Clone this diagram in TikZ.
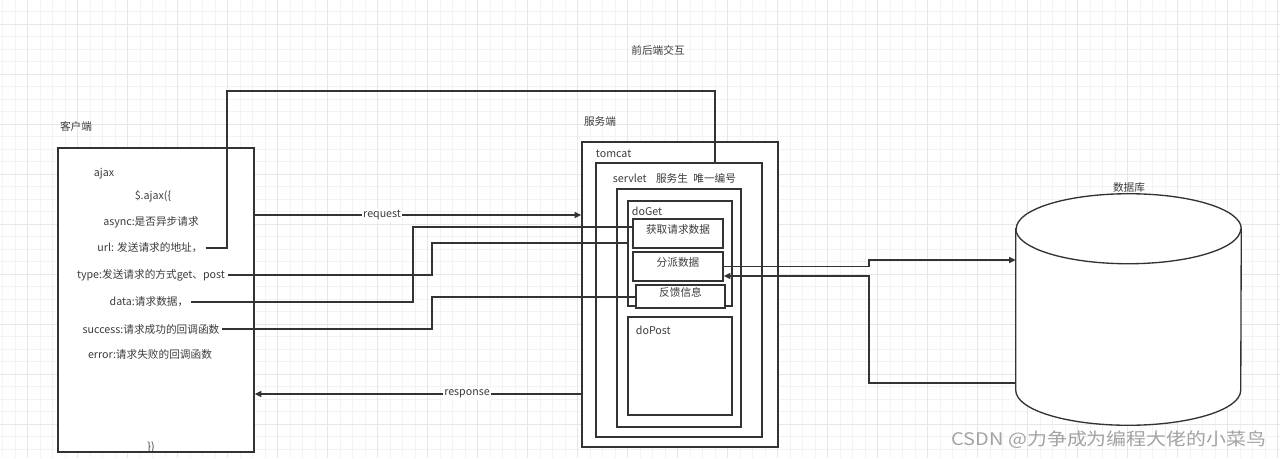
\documentclass[tikz,border=0pt]{standalone}
\usepackage{fontspec}
\setmainfont{Noto Sans CJK SC}
\usepackage{graphicx}
\usetikzlibrary{arrows.meta,fit}
\definecolor{linegray}{HTML}{333333}
\definecolor{textgray}{HTML}{3C3C3C}
\definecolor{gridminor}{HTML}{F3F3F3}
\definecolor{gridmajor}{HTML}{E7E7E7}
\definecolor{markgray}{HTML}{A3A3A3}
\tikzset{
  box/.style={draw=linegray, fill=white, inner sep=0pt, line width=1pt},
  txt/.style={text=textgray, font=\fontsize{8}{9}\selectfont, inner sep=2pt},
  wire/.style={draw=linegray, line width=1pt},
  arr/.style={wire, -{Triangle[length=5pt,width=4.5pt]}},
  tag/.style={txt, fill=white, inner sep=1pt},
}
\begin{document}
\begin{tikzpicture}[x=0.75pt, y=-0.75pt]
	\fill[white] (0,0) rectangle (1280,458);
	\useasboundingbox (0,0) rectangle (1280,458);
	% background grid
	\foreach \k in {0,...,102} \draw[gridminor, line width=0.75pt] ({2.7+12.5*\k},0) -- ({2.7+12.5*\k},458);
	\foreach \k in {1,...,37} \draw[gridminor, line width=0.75pt] (0,{-1+12.5*\k}) -- (1280,{-1+12.5*\k});
	\foreach \k in {0,...,25} \draw[gridmajor, line width=0.75pt] ({27.7+50*\k},0) -- ({27.7+50*\k},458);
	\foreach \k in {0,...,8} \draw[gridmajor, line width=0.75pt] (0,{24+50*\k}) -- (1280,{24+50*\k});

	\node[txt] (title) at (658,50) {前后端交互};

	% client side
	\node[txt] (cltitle) at (76,126) {客户端};
	\node[box, fit={(58,148) (254,452)}] (client) {};
	\node[txt] (ajax) at (104,174) {ajax};
	\node[txt] (call) at (153,196) {\$.ajax(\{};
	\node[txt] (async) at (151,222) {async:是否异步请求};
	\node[txt] (url) at (150,248) {url: 发送请求的地址，};
	\node[txt] (type) at (151,275) {type:发送请求的方式get、post};
	\node[txt] (data) at (149,302) {data:请求数据，};
	\node[txt] (succ) at (151,329) {success:请求成功的回调函数};
	\node[txt] (err) at (150,354) {error:请求失败的回调函数};
	\node[txt] (close) at (151,447) {\})};

	% server side
	\node[txt] (svtitle) at (600,121) {服务端};
	\node[box, fit={(582,142) (778,447)}] (tomcat) {};
	\node[txt, anchor=west] (tomcatlbl) at (593,154) {tomcat};
	\node[box, fit={(596,163) (762,437)}] (servlet) {};
	\node[txt, anchor=west] (servletlbl) at (610,178) {servlet\hspace{7pt}服务生\hspace{4pt}唯一编号};
	\node[box, fit={(617,189) (741,427)}] (holder) {};
	\node[box, fit={(628,201) (732,306)}] (doget) {};
	\node[txt, anchor=west] (dogetlbl) at (629,211) {doGet};
	\node[txt, box, fit={(633,219) (723,248)}] (fetch) {获取请求数据};
	\node[txt, box, fit={(633,252) (723,281)}] (dispatch) {分派数据};
	\node[txt, box, fit={(636,285) (725,308)}] (feedback) {反馈信息};
	\node[box, fit={(628,317) (732,415)}] (dopost) {};
	\node[txt, anchor=west] (dopostlbl) at (633,330) {doPost};

	% database
	\node[txt] (dbtitle) at (1129,187) {数据库};
	\node[inner sep=0pt, fit={(1016,194) (1241,425)}] (db) {};
	\draw[wire, fill=white] ([yshift=-26.25pt]db.north west) -- ([yshift=26.25pt]db.south west)
		arc[start angle=180, end angle=360, x radius=84.375pt, y radius=26.25pt]
		-- ([yshift=-26.25pt]db.north east)
		arc[start angle=0, end angle=180, x radius=84.375pt, y radius=26.25pt] -- cycle;
	\draw[wire] ([yshift=-26.25pt]db.north west)
		arc[start angle=180, end angle=360, x radius=84.375pt, y radius=26.25pt];

	% request / response
	\coordinate (reqy) at (0,215);
	\coordinate (respy) at (0,394);
	\draw[arr] (client.east |- reqy) -- (tomcat.west |- reqy) node[tag, pos=0.39] (reqtag) {request};
	\draw[arr] (tomcat.west |- respy) -- (client.east |- respy) node[tag, pos=0.35] (resptag) {response};

	% ajax options to servlet
	\coordinate (urlup) at (227,91);
	\coordinate (urltop) at (715,91);
	\draw[wire] (url.east) -| (urlup) -- (urltop) -- (urltop |- servlet.north);
	\coordinate (typebend) at (432,243);
	\draw[wire] (type.east) -| (typebend) -- (typebend -| doget.west);
	\coordinate (databend) at (413,227);
	\draw[wire] (data.east) -| (databend) -- (databend -| fetch.west);
	\coordinate (succbend) at (432,297);
	\draw[wire] (succ.east) -| (succbend) -- (succbend -| feedback.west);

	% servlet <-> database
	\coordinate (dbjog) at (869,260);
	\draw[arr] (dispatch.east) -| (dbjog) -- (dbjog -| db.west);
	\coordinate (dbret) at (869,383);
	\coordinate (dbback) at (869,276);
	\draw[arr] (dbret -| db.west) -- (dbret) -- (dbback) -- (dbback -| dispatch.east);

	\node[text=markgray, font=\fontsize{13}{14}\selectfont] (mark) at (1109,440) {\scalebox{1.15}[1]{CSDN @力争成为编程大佬的小菜鸟}};
\end{tikzpicture}
\end{document}
